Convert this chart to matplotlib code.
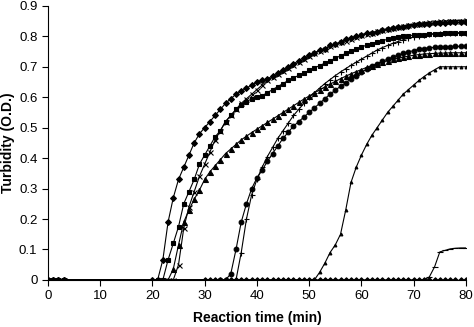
import matplotlib
matplotlib.use("Agg")
import matplotlib.pyplot as plt

plt.rcParams['font.family'] = ['Liberation Sans', 'DejaVu Sans']

# early readings (all samples still clear)
t_early = [0, 1, 2, 3]

# onset ~21 min, diamonds
t_dia = list(range(20, 81))
v_dia = [0, 0, 0.066, 0.19, 0.27, 0.33, 0.37, 0.41, 0.45, 0.48, 0.50, 0.52, 0.54, 0.56,
         0.58, 0.595, 0.61, 0.62, 0.63, 0.64, 0.65, 0.655, 0.66, 0.67, 0.68, 0.69, 0.70,
         0.71, 0.72, 0.73, 0.74, 0.745, 0.755, 0.76, 0.77, 0.775, 0.78, 0.79, 0.795, 0.80,
         0.805, 0.81, 0.812, 0.815, 0.82, 0.823, 0.826, 0.83, 0.832, 0.835, 0.837, 0.839,
         0.84, 0.842, 0.843, 0.844, 0.845, 0.846, 0.846, 0.847, 0.847]

# onset ~22 min, squares
t_sq = list(range(21, 81))
v_sq = [0, 0, 0.066, 0.12, 0.175, 0.25, 0.29, 0.33, 0.38, 0.41, 0.44, 0.47, 0.49, 0.52,
        0.54, 0.56, 0.575, 0.585, 0.595, 0.60, 0.605, 0.615, 0.625, 0.635, 0.645, 0.655,
        0.663, 0.672, 0.68, 0.688, 0.696, 0.704, 0.712, 0.72, 0.728, 0.736, 0.744, 0.752,
        0.759, 0.765, 0.771, 0.776, 0.781, 0.786, 0.79, 0.794, 0.797, 0.80, 0.802, 0.804,
        0.805, 0.806, 0.807, 0.808, 0.809, 0.81, 0.81, 0.81, 0.81, 0.81]

# onset ~23.5 min, triangles
t_tri = list(range(22, 81))
v_tri = [0, 0, 0.036, 0.115, 0.19, 0.23, 0.265, 0.295, 0.33, 0.355, 0.375, 0.395, 0.415,
         0.43, 0.445, 0.46, 0.472, 0.484, 0.495, 0.506, 0.517, 0.528, 0.539, 0.55, 0.561,
         0.572, 0.583, 0.594, 0.604, 0.614, 0.624, 0.634, 0.643, 0.652, 0.661, 0.669, 0.677,
         0.684, 0.691, 0.698, 0.704, 0.71, 0.715, 0.72, 0.724, 0.728, 0.732, 0.735, 0.738,
         0.74, 0.742, 0.743, 0.744, 0.745, 0.745, 0.746, 0.746, 0.746, 0.746]

# onset ~25 min, crosses
t_x = list(range(23, 81))
v_x = [0, 0, 0.05, 0.17, 0.24, 0.29, 0.34, 0.38, 0.42, 0.46, 0.49, 0.52, 0.54, 0.56, 0.58,
       0.595, 0.61, 0.625, 0.64, 0.655, 0.665, 0.675, 0.685, 0.695, 0.705, 0.715, 0.725,
       0.735, 0.745, 0.752, 0.76, 0.767, 0.774, 0.78, 0.786, 0.792, 0.798, 0.803, 0.808,
       0.812, 0.816, 0.82, 0.824, 0.828, 0.831, 0.834, 0.837, 0.84, 0.842, 0.844, 0.846,
       0.848, 0.849, 0.85, 0.851, 0.852, 0.852, 0.853]

# onset ~35 min, circles
t_cir = list(range(33, 81))
v_cir = [0, 0, 0.02, 0.10, 0.19, 0.25, 0.30, 0.335, 0.36, 0.39, 0.415, 0.44, 0.465, 0.485,
         0.505, 0.52, 0.535, 0.55, 0.565, 0.58, 0.595, 0.61, 0.623, 0.636, 0.648, 0.66,
         0.671, 0.682, 0.692, 0.701, 0.71, 0.718, 0.725, 0.732, 0.738, 0.744, 0.749, 0.753,
         0.757, 0.76, 0.762, 0.764, 0.765, 0.766, 0.766, 0.767, 0.767, 0.767]

# onset ~36 min, plus
t_plus = list(range(34, 81))
v_plus = [0, 0, 0.0, 0.09, 0.20, 0.28, 0.33, 0.37, 0.405, 0.435, 0.465, 0.49, 0.515, 0.54,
          0.56, 0.58, 0.60, 0.615, 0.63, 0.645, 0.658, 0.671, 0.683, 0.694, 0.705, 0.715,
          0.725, 0.735, 0.745, 0.755, 0.763, 0.77, 0.777, 0.783, 0.789, 0.794, 0.798, 0.802,
          0.805, 0.807, 0.809, 0.81, 0.811, 0.811, 0.812, 0.812, 0.812]

# onset ~51 min, small triangles
t_late = list(range(50, 81))
v_late = [0, 0, 0.025, 0.055, 0.09, 0.115, 0.15, 0.23, 0.32, 0.37, 0.41, 0.445, 0.475, 0.50,
          0.525, 0.55, 0.57, 0.59, 0.61, 0.625, 0.64, 0.655, 0.668, 0.68, 0.69, 0.70, 0.70,
          0.70, 0.70, 0.70, 0.70]

# onset ~73 min, dashes
t_last = list(range(71, 81))
v_last = [0, 0, 0.01, 0.043, 0.092, 0.097, 0.102, 0.104, 0.105, 0.105]

# negative control, stays clear
t_neg = list(range(30, 81))
v_neg = [0] * len(t_neg)

series = [
    (t_dia, v_dia, 'D', 3.0),
    (t_sq, v_sq, 's', 3.2),
    (t_tri, v_tri, '^', 3.6),
    (t_x, v_x, 'x', 3.6),
    (t_cir, v_cir, 'o', 3.4),
    (t_plus, v_plus, '+', 3.6),
    (t_late, v_late, '^', 2.0),
    (t_last, v_last, '_', 4.0),
    (t_neg, v_neg, 'D', 2.8),
]

fig = plt.figure(figsize=(4.74, 3.27), dpi=100)
ax = fig.add_axes([0.101, 0.144, 0.882, 0.838])

for t, v, m, ms in series:
    ax.plot(t_early + t, [0] * len(t_early) + v, color='black', lw=0.8,
            marker=m, markersize=ms, markeredgewidth=0.8)

ax.set_xlim(0, 80)
ax.set_ylim(0, 0.9)
ax.set_xticks(range(0, 81, 10))
ax.set_yticks([i / 10 for i in range(10)])
ax.set_yticklabels(['0'] + ['0.%d' % i for i in range(1, 10)])
ax.spines['top'].set_visible(False)
ax.spines['right'].set_visible(False)
ax.tick_params(direction='out', length=4, width=0.8, labelsize=9.5)
ax.set_xlabel('Reaction time (min)', fontsize=10, fontweight='bold', labelpad=6)
ax.set_ylabel('Turbidity (O.D.)', fontsize=10, fontweight='bold', labelpad=3)

fig.savefig('out.png', dpi=100)
